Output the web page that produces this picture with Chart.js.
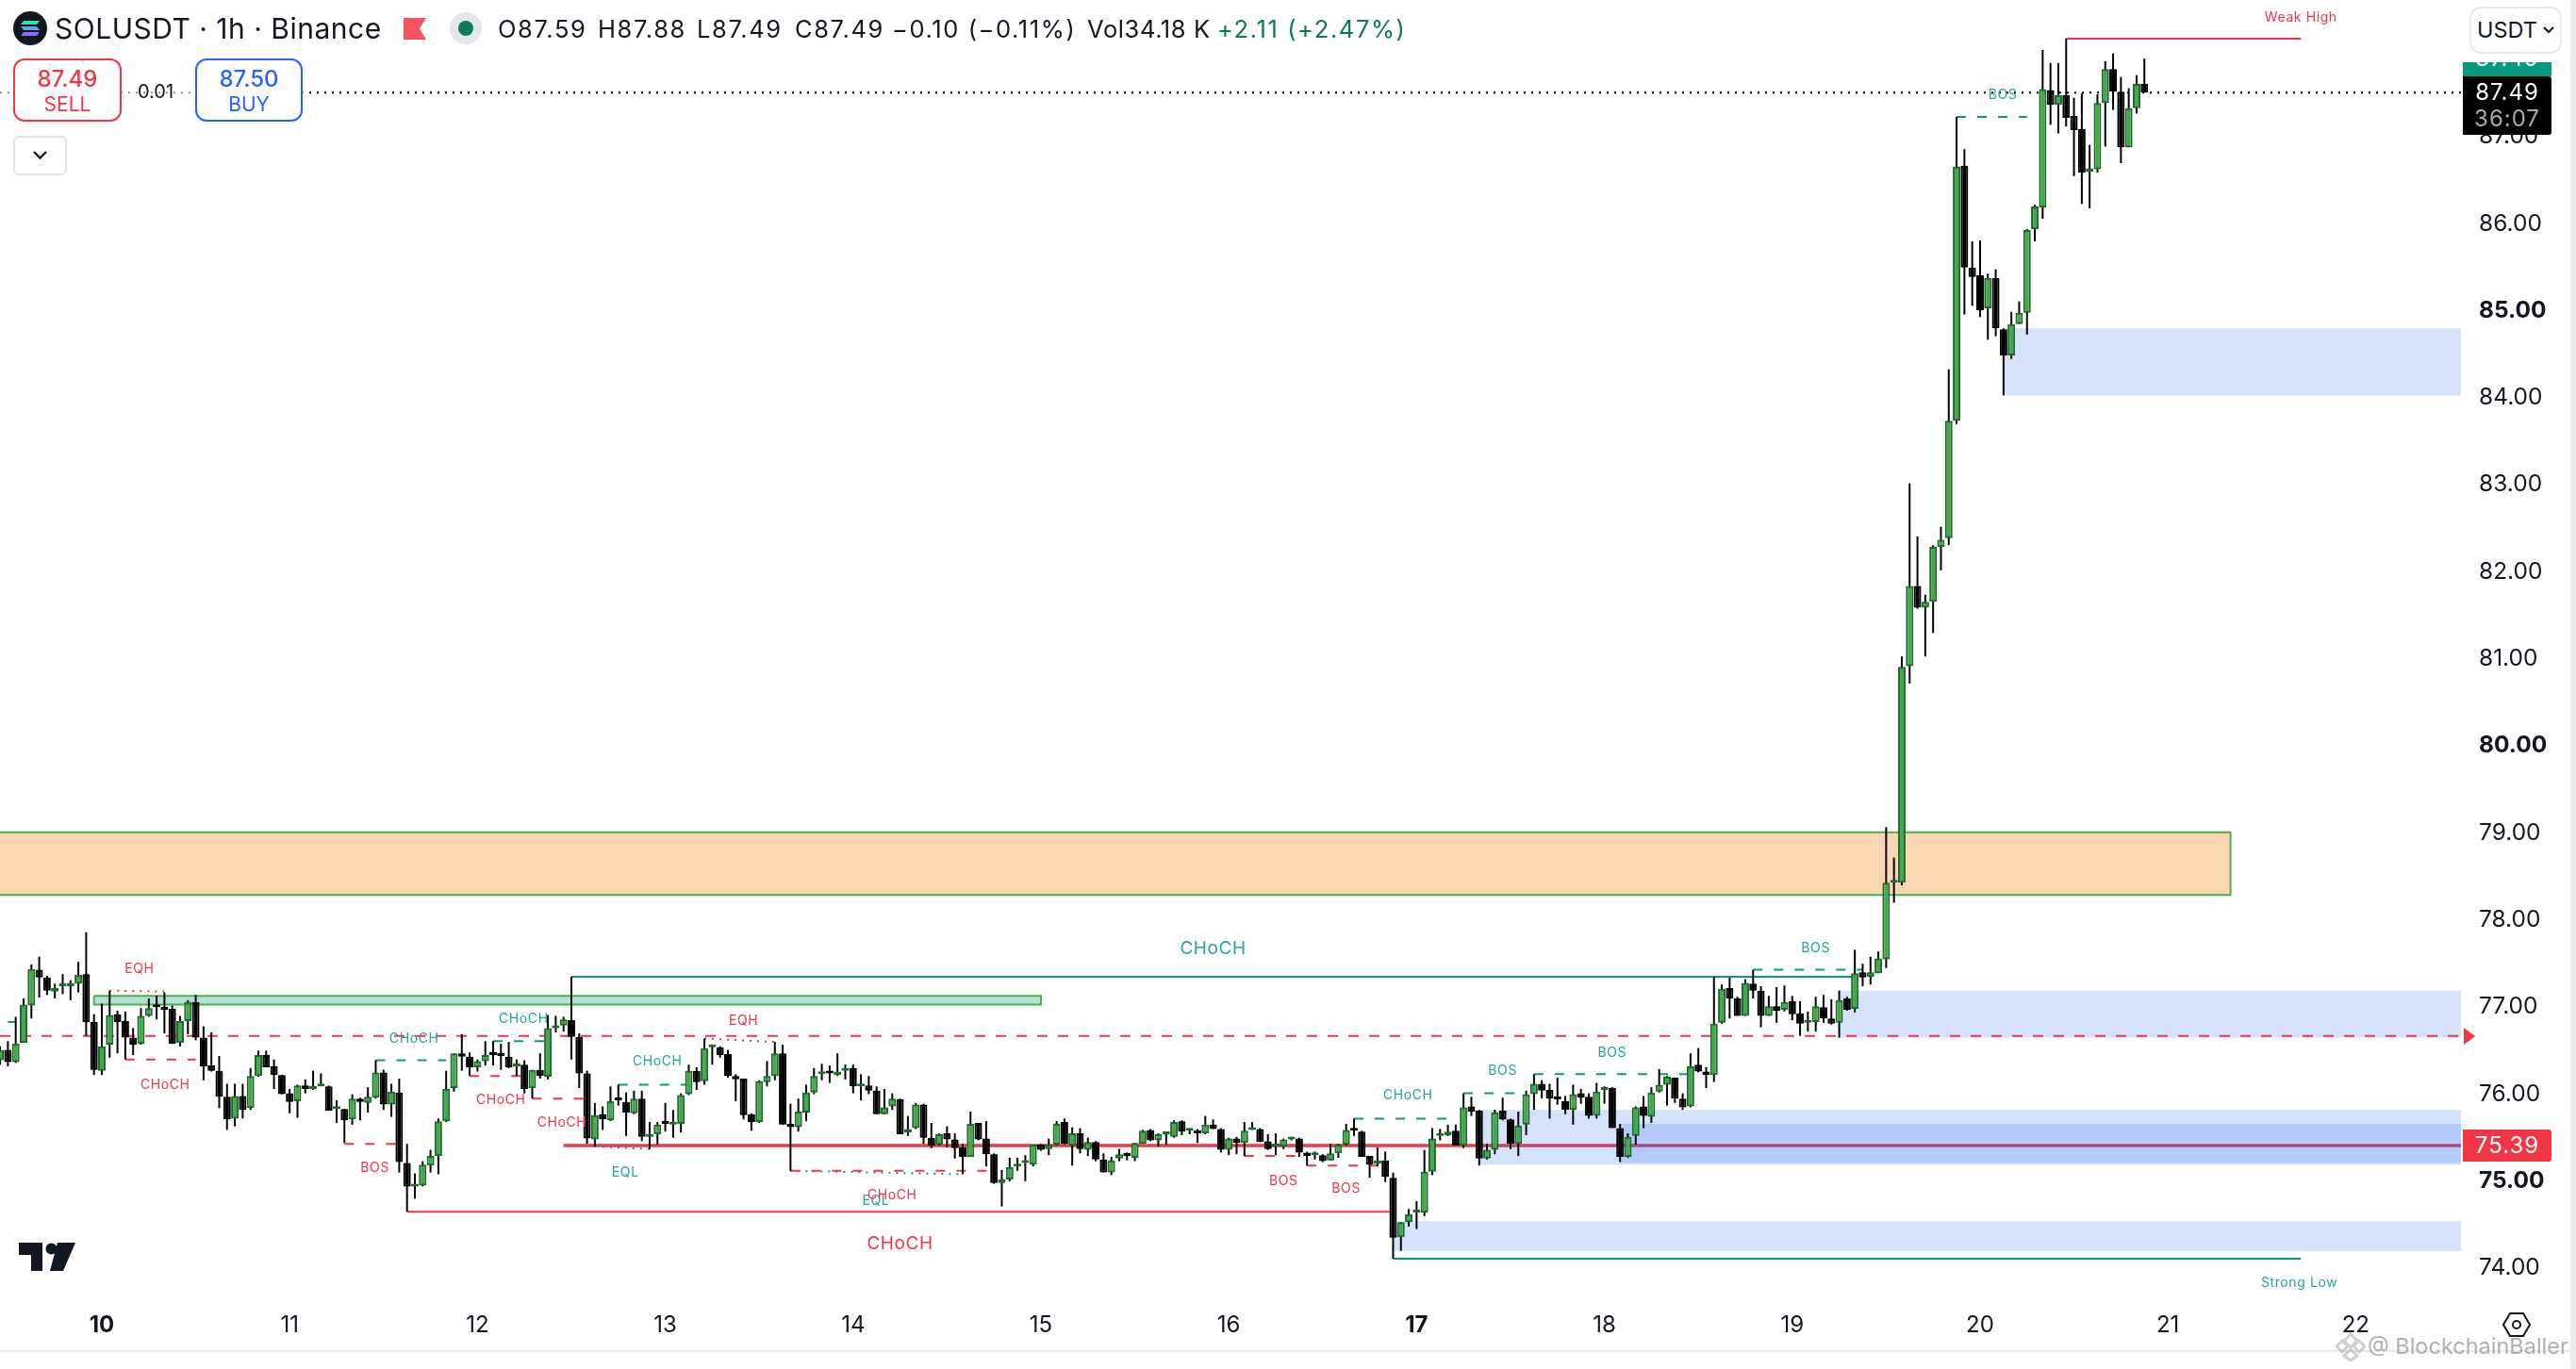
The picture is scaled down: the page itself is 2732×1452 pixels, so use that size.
<!DOCTYPE html>
<html><head><meta charset="utf-8">
<script src="https://cdn.jsdelivr.net/npm/chart.js@4/dist/chart.umd.min.js"></script>
<style>
html,body{margin:0;padding:0;background:#fff;width:2732px;height:1452px;overflow:hidden;font-family:Inter,sans-serif;color:#131722}
#wrap{position:relative;width:2732px;height:1452px}
canvas{position:absolute;left:0;top:0}
.a{position:absolute;white-space:nowrap;line-height:1}
.box{position:absolute;box-sizing:border-box;background:#fff}
.c{position:absolute;left:0;right:0;text-align:center;line-height:1}
.q{font-size:25.5px;letter-spacing:1.6px;top:18px}
</style></head><body><div id="wrap"><canvas id="c" width="2732" height="1452"></canvas>
<div class="a" style="left:0;top:96px;width:322px;height:5px;background:rgba(255,255,255,.55)"></div>
<svg class="a" style="left:14px;top:12px" width="36" height="36" viewBox="0 0 36 36"><circle cx="18" cy="18" r="18" fill="#131722"/><polygon points="11,10 28,10 25,14 8,14" fill="#2fe0b0"/><polygon points="8,16 25,16 28,20 11,20" fill="#5aa8e8"/><polygon points="11,22 28,22 25,26 8,26" fill="#8f6cf0"/></svg>
<div class="a" style="left:58px;top:15px;font-size:30px;letter-spacing:.5px">SOLUSDT · 1h · Binance</div>
<svg class="a" style="left:428px;top:19px" width="24" height="23" viewBox="0 0 24 23"><polygon points="0,0 24,0 17,11.5 24,23 0,23" fill="#f7525f"/></svg>
<svg class="a" style="left:476px;top:12px" width="36" height="36" viewBox="0 0 36 36"><circle cx="18" cy="18" r="17" fill="#e3e7ec"/><circle cx="18" cy="18" r="8" fill="#0b7a5b"/></svg>
<div class="a q" style="left:528px">O87.59</div>
<div class="a q" style="left:634px">H87.88</div>
<div class="a q" style="left:739px">L87.49</div>
<div class="a q" style="left:843px">C87.49</div>
<div class="a q" style="left:946px">−0.10 (−0.11%)</div>
<div class="a q" style="left:1153px;letter-spacing:.6px">Vol34.18 K</div>
<div class="a q" style="left:1291px;color:#0b7a5b">+2.11 (+2.47%)</div>

<div class="box" style="left:14px;top:62px;width:115px;height:67px;border:2px solid #f23645;border-radius:12px;color:#f23645">
 <div class="c" style="top:8px;font-size:24px;font-weight:500">87.49</div><div class="c" style="top:36px;font-size:21px">SELL</div></div>
<div class="a" style="left:146px;top:87px;font-size:20px">0.01</div>
<div class="box" style="left:207px;top:62px;width:114px;height:67px;border:2px solid #2962ff;border-radius:12px;color:#2962ff">
 <div class="c" style="top:8px;font-size:24px;font-weight:500">87.50</div><div class="c" style="top:36px;font-size:21px">BUY</div></div>
<div class="box" style="left:14px;top:144px;width:57px;height:42px;border:2px solid #e0e3eb;border-radius:6px"></div>
<svg class="a" style="left:34px;top:159px" width="17" height="11" viewBox="0 0 17 11"><polyline points="2,2 8.5,8.5 15,2" fill="none" stroke="#131722" stroke-width="2.4"/></svg>

<div class="box" style="left:2619px;top:7px;width:98px;height:50px;border:2px solid #ebebeb;border-radius:12px"></div>
<div class="a" style="left:2627px;top:20px;font-size:23.5px">USDT</div>
<svg class="a" style="left:2697px;top:28px" width="12" height="8" viewBox="0 0 12 8"><polyline points="1,1 6,6 11,1" fill="none" stroke="#131722" stroke-width="2.2"/></svg>

<div class="a" style="left:2612px;top:66px;width:94px;height:15px;background:#089981;overflow:hidden;color:#fff"><div class="c" style="top:-16px;font-size:24px;letter-spacing:1px">87.49</div></div>
<div class="a" style="left:2612px;top:81px;width:94px;height:62px;background:#000;border-radius:0 3px 3px 0;color:#fff">
 <div class="c" style="top:5px;font-size:24px;letter-spacing:1px">87.49</div><div class="c" style="top:33px;font-size:24px;letter-spacing:1px;color:#aaa">36:07</div></div>
<div class="a" style="left:2612px;top:1198px;width:94px;height:34px;background:#f23645;border-radius:0 3px 3px 0;color:#fff"><div class="c" style="top:5px;font-size:24px;letter-spacing:1px">75.39</div></div>
<svg class="a" style="left:2612px;top:1089px" width="14" height="20" viewBox="0 0 14 20"><polygon points="1,1 13,10 1,19" fill="#f23645"/></svg>

<svg class="a" style="left:20px;top:1318px" width="60" height="30" viewBox="0 0 60 30"><path d="M0 0H25V30H13V13H0Z" fill="#131722"/><circle cx="34.5" cy="6.5" r="6" fill="#131722"/><polygon points="41,0 60,0 47,30 33,30" fill="#131722"/></svg>
<svg class="a" style="left:2653px;top:1391px" width="32" height="28" viewBox="0 0 32 28"><polygon points="9,2 23,2 30,14 23,26 9,26 2,14" fill="none" stroke="#131722" stroke-width="2"/><circle cx="16" cy="14" r="4" fill="none" stroke="#131722" stroke-width="2"/></svg>

<div class="a" style="left:0;top:1432px;width:2726px;height:2px;background:#e9e9e9"></div>
<div class="a" style="left:2726px;top:0;width:6px;height:1452px;background:#ebebeb"></div>
<svg class="a" style="left:2477px;top:1412px;opacity:.55" width="32" height="32" viewBox="0 0 32 32"><g fill="none" stroke="#aaa" stroke-width="3"><polygon points="16,3 23,10 16,17 9,10"/><polygon points="6,12 12,18 6,24 0,18" transform="translate(1,-2)"/><polygon points="26,12 32,18 26,24 20,18" transform="translate(-1,-2)"/><polygon points="16,19 23,26 16,31 9,26"/></g></svg>
<div class="a" style="left:2511px;top:1416px;font-size:23.5px;color:rgba(150,150,150,.75)">@ BlockchainBaller</div>
</div>
<script>
const firstHour = -13;
const opens = [76.37,76.49,76.35,76.57,77.00,77.41,77.32,77.16,77.22,77.22,77.25,77.36,76.81,
76.25,76.55,76.90,76.82,76.63,76.56,76.88,76.99,76.98,76.96,
76.57,76.82,77.04,76.63,76.31,76.25,75.95,75.70,75.96,75.82,
76.19,76.43,76.30,76.20,75.99,75.90,76.08,76.04,76.07,76.07,
75.81,75.81,75.69,75.93,75.88,75.94,76.23,75.86,76.00,75.19,
74.92,74.93,75.16,75.27,75.67,76.05,76.45,76.41,76.29,76.36,
76.44,76.43,76.41,76.30,76.32,76.05,76.26,76.18,76.74,76.77,
76.83,76.64,76.22,75.46,75.75,75.68,75.92,75.89,75.76,75.93,
75.49,75.52,75.65,75.63,75.64,75.98,76.25,76.13,76.52,76.52,
76.44,76.19,76.16,75.75,75.66,76.12,76.19,76.45,75.64,75.60,
75.77,76.00,76.21,76.23,76.20,76.25,76.28,76.07,76.08,76.02,
75.75,75.84,75.92,75.54,75.59,75.86,75.48,75.40,75.53,75.46,
75.37,75.26,75.65,75.47,75.29,74.96,75.00,75.15,75.19,75.17,
75.40,75.35,75.40,75.66,75.39,75.53,75.34,75.43,75.23,75.08,
75.24,75.28,75.25,75.41,75.57,75.45,75.52,75.49,75.67,75.56,
75.56,75.53,75.63,75.58,75.34,75.47,75.42,75.57,75.58,75.44,
75.38,75.38,75.46,75.47,75.31,75.28,75.28,75.22,75.30,75.40,
75.57,75.55,75.27,75.18,75.22,75.02,74.34,74.51,74.62,74.62,
75.09,75.50,75.51,75.56,75.39,75.84,75.79,75.24,75.34,75.79,
75.69,75.41,75.63,75.98,76.10,76.03,75.93,75.90,75.80,75.99,
75.95,75.73,76.03,76.05,75.59,75.26,75.50,75.84,75.72,76.01,
76.09,76.17,75.93,75.84,76.32,76.24,76.20,76.80,77.20,77.08,
76.88,77.25,77.17,76.88,76.99,76.95,77.05,76.91,76.80,76.81,
76.98,76.85,76.80,77.08,76.96,77.38,77.33,77.37,77.53,78.41,
78.41,80.90,81.82,81.57,81.64,82.27,82.37,83.72,86.65,85.48,
85.39,85.01,85.36,84.77,84.47,84.83,84.96,85.92,86.17,87.52,
87.35,87.46,87.22,87.07,86.58,86.61,87.37,87.76,87.50,86.86,
87.31,87.59];
const highs = [76.53,76.59,76.87,77.08,77.47,77.56,77.34,77.25,77.36,77.29,77.50,77.84,76.90,
77.02,77.17,76.94,76.93,76.74,76.97,77.08,77.11,77.15,77.00,
76.88,77.06,77.12,76.76,76.69,76.42,76.10,76.10,76.10,76.28,
76.48,76.48,76.38,76.20,76.04,76.09,76.15,76.25,76.22,76.08,
75.91,75.81,75.98,75.94,76.06,76.37,76.26,76.10,76.16,75.41,
75.07,75.21,75.34,75.70,76.25,76.45,76.67,76.46,76.38,76.59,
76.59,76.56,76.58,76.38,76.37,76.26,76.45,76.89,76.88,76.87,
77.33,76.68,76.25,75.88,75.84,76.07,76.09,76.00,76.02,76.02,
75.66,75.66,75.88,75.80,75.99,76.32,76.29,76.62,76.55,76.53,
76.49,76.21,76.16,75.76,76.14,76.36,76.58,76.55,75.87,75.93,
76.09,76.28,76.33,76.31,76.45,76.32,76.32,76.21,76.19,76.07,
76.04,75.99,75.93,75.73,75.88,75.87,75.65,75.53,75.61,75.53,
75.41,75.78,75.65,75.67,75.30,75.11,75.25,75.25,75.28,75.40,
75.41,75.47,75.67,75.70,75.60,75.59,75.48,75.44,75.30,75.26,
75.35,75.31,75.42,75.57,75.58,75.53,75.53,75.68,75.68,75.57,
75.58,75.73,75.69,75.59,75.48,75.49,75.66,75.66,75.59,75.52,
75.53,75.47,75.49,75.48,75.32,75.32,75.29,75.41,75.41,75.64,
75.70,75.56,75.27,75.37,75.32,75.08,74.51,74.66,74.75,75.34,
75.59,75.58,75.63,75.63,75.99,75.95,75.80,75.41,75.80,75.94,
75.70,75.78,76.02,76.21,76.14,76.10,76.17,75.96,76.09,76.04,
75.99,76.11,76.07,76.06,75.64,75.53,75.84,75.96,76.06,76.27,
76.19,76.17,75.99,76.45,76.51,76.29,77.33,77.24,77.32,77.10,
77.30,77.41,77.22,77.11,77.21,77.23,77.11,77.05,76.93,77.10,
77.12,77.07,77.17,77.10,77.64,77.48,77.56,77.62,79.05,78.70,
81.01,83.00,82.39,81.72,82.29,82.50,84.31,87.21,86.84,85.78,
85.79,85.41,85.46,84.78,84.97,85.09,85.92,86.20,87.98,87.83,
87.83,88.11,87.43,87.48,86.89,87.47,87.85,87.94,87.67,87.54,
87.69,87.88];
const lows = [76.32,76.30,76.34,76.57,76.85,77.09,77.12,77.08,77.13,77.06,77.15,76.65,76.20,
76.20,76.40,76.45,76.38,76.43,76.55,76.87,76.84,76.68,76.56,
76.53,76.67,76.60,76.14,76.24,75.82,75.57,75.61,75.70,75.80,
76.18,76.29,76.04,75.98,75.76,75.71,75.99,76.03,76.07,75.79,
75.65,75.42,75.63,75.68,75.77,75.93,75.80,75.72,75.08,74.63,
74.78,74.92,75.08,75.06,75.66,76.01,76.25,76.19,76.24,76.31,
76.31,76.26,76.28,76.19,75.99,75.93,76.16,76.15,76.69,76.70,
76.38,76.05,75.41,75.38,75.57,75.67,75.85,75.50,75.75,75.44,
75.35,75.40,75.55,75.48,75.54,75.97,76.03,76.09,76.32,76.40,
76.17,75.90,75.69,75.56,75.65,76.07,76.14,75.63,75.10,75.55,
75.67,75.98,76.14,76.11,76.19,76.15,75.99,75.91,75.98,75.75,
75.75,75.80,75.52,75.50,75.58,75.41,75.36,75.39,75.37,75.24,
75.06,75.26,75.45,75.15,74.95,74.69,74.98,75.10,74.98,75.15,
75.33,75.28,75.39,75.40,75.16,75.30,75.27,75.21,75.08,75.05,
75.21,75.22,75.21,75.41,75.44,75.38,75.40,75.48,75.51,75.52,
75.42,75.52,75.58,75.31,75.28,75.29,75.27,75.57,75.43,75.34,
75.28,75.35,75.45,75.26,75.16,75.23,75.20,75.22,75.25,75.39,
75.50,75.26,75.02,75.15,74.97,74.09,74.18,74.46,74.43,74.58,
75.05,75.45,75.50,75.39,75.36,75.73,75.16,75.23,75.29,75.68,
75.35,75.27,75.51,75.80,75.93,75.70,75.86,75.75,75.63,75.87,
75.70,75.70,75.87,75.59,75.20,75.25,75.40,75.59,75.65,76.00,
75.85,75.88,75.80,75.83,76.23,76.05,76.12,76.79,76.85,76.88,
76.88,77.08,76.75,76.88,76.80,76.93,76.83,76.65,76.70,76.70,
76.80,76.78,76.63,76.94,76.92,77.22,77.24,77.37,77.43,78.18,
78.38,80.70,81.56,81.01,81.28,82.00,82.29,83.68,84.94,85.04,
84.91,84.65,84.69,84.01,84.43,84.83,84.71,85.78,86.04,87.12,
87.02,87.10,86.53,86.21,86.16,86.57,86.87,87.29,86.68,86.86,
87.25,87.49];
const closes = [76.49,76.35,76.56,77.01,77.42,77.32,77.17,77.20,77.23,77.26,77.35,76.81,76.26,
76.53,76.89,76.81,76.63,76.55,76.88,76.97,76.98,76.95,76.56,
76.82,77.04,76.63,76.30,76.25,75.95,75.69,75.96,75.80,76.19,
76.43,76.29,76.20,75.98,75.89,76.08,76.04,76.07,76.08,75.79,
75.82,75.68,75.93,75.89,75.95,76.23,75.86,76.01,75.20,74.92,
74.93,75.17,75.27,75.67,76.04,76.45,76.41,76.29,76.36,76.43,
76.43,76.42,76.29,76.32,76.04,76.26,76.19,76.74,76.77,76.84,
76.64,76.22,75.47,75.74,75.69,75.90,75.91,75.77,75.93,75.49,
75.52,75.63,75.64,75.64,75.97,76.25,76.12,76.51,76.53,76.43,
76.19,76.15,75.74,75.66,76.13,76.19,76.45,75.63,75.60,75.78,
76.00,76.19,76.22,76.22,76.24,76.27,76.07,76.08,76.02,75.75,
75.83,75.93,75.52,75.58,75.86,75.48,75.39,75.52,75.46,75.36,
75.26,75.64,75.46,75.29,74.96,75.00,75.14,75.18,75.20,75.40,
75.34,75.40,75.64,75.41,75.53,75.35,75.43,75.23,75.08,75.22,
75.29,75.27,75.42,75.56,75.45,75.52,75.53,75.66,75.55,75.57,
75.53,75.63,75.58,75.34,75.47,75.42,75.56,75.58,75.43,75.35,
75.39,75.46,75.47,75.31,75.27,75.29,75.21,75.30,75.40,75.57,
75.56,75.26,75.17,75.22,75.03,74.33,74.51,74.60,74.63,75.09,
75.47,75.51,75.55,75.39,75.83,75.78,75.24,75.34,75.77,75.69,
75.41,75.62,75.98,76.10,76.02,75.93,75.92,75.80,75.98,75.94,
75.73,76.01,76.04,75.59,75.26,75.49,75.83,75.73,76.00,76.09,
76.18,75.93,75.83,76.30,76.24,76.20,76.79,77.19,77.08,76.88,
77.26,77.17,76.88,76.99,76.94,77.04,76.90,76.79,76.81,76.99,
76.85,76.79,77.06,76.95,77.37,77.32,77.38,77.54,78.41,78.42,
80.89,81.82,81.57,81.64,82.27,82.35,83.72,86.64,85.48,85.37,
84.99,85.36,84.78,84.47,84.83,84.96,85.91,86.18,87.53,87.35,
87.46,87.20,87.06,86.57,86.62,87.37,87.76,87.50,86.86,87.31,
87.59,87.49];

const dayHours = [0,24,48,72,96,120,144,168,192,216,240,264,288];
const dayLabels = ['10','11','12','13','14','15','16','17','18','19','20','21','22'];
const boldDays = ['10','17'];
const priceTicks = [74,75,76,77,78,79,80,81,82,83,84,85,86,87];
const boldPrices = [75,80,85];

const xMin = -13.01, xMax = 301.45, yMin = 73.624, yMax = 88.554;

// zones: start hour, end hour, top price, bottom price
const demandStart = [243,222,176,194,165];
const demandTop = [84.78,77.17,75.80,75.64,74.52];
const demandBottom = [84.01,76.63,75.17,75.19,74.18];
const supplyZone = [-14,272,78.99,78.27];
const obZone = [-1,120,77.11,77.01];

// horizontal levels: [start hour, end hour, price]
const tealSolid = [[60,224,77.33],[165,281,74.09]];
const redSolid = [[39,165,74.63],[251,281,88.11]];
const lastPrice = 87.49, markLine = 76.65, redLevel = 75.39, redLevelStart = 59;
const tealDash = [[-12,-11,76.81],[35,44,76.37],[50,57,76.59],[66,75,76.09],[160,173,75.70],[174,181,75.99],[183,203,76.21],[211,225,77.41],[237,246,87.21]];
const redDash = [[3,12,76.38],[31,38,75.41],[47,54,76.19],[55,62,75.93],[88,114,75.10],[146,153,75.27],[154,163,75.16]];
// dotted pairs: [start hour, start price, end hour, end price]
const redDots = [[1,77.17,8,77.16],[77,76.62,86,76.58]];
const tealDots = [[63,75.38,70,75.35],[88,75.10,110,75.06]];

// text anchors: [text, hour, price]
const tealText = [['CHoCH',39.9,76.63],['CHoCH',53.9,76.86],['CHoCH',71,76.37],['EQL',66.9,75.09],['EQL',98.9,74.77],['CHoCH',166.9,75.98],['BOS',179,76.26],['BOS',193,76.47],['BOS',219,77.67],['BOS',242.9,87.48],['Strong Low',280.8,73.83]];
const redText = [['EQH',4.8,77.43],['CHoCH',8.1,76.10],['BOS',34.9,75.15],['CHoCH',51,75.93],['CHoCH',58.8,75.67],['EQH',82,76.84],['CHoCH',101,74.83],['BOS',151,75.00],['BOS',159,74.91],['Weak High',281,88.37]];
const tealBig = [['CHoCH',142,77.67]];
const redBig = [['CHoCH',102,74.28]];

const TEAL='#089981', RED='#f23645', FONT='Inter, sans-serif';
const hours = opens.map((_,k)=>k+firstHour);
const isUp = k => closes[k] >= opens[k];

function seg(x0,y0,x1,y1,color,width,dash,order){
  return {type:'line',data:[{x:x0,y:y0},{x:x1,y:y1}],borderColor:color,borderWidth:width,borderDash:dash||[],pointRadius:0,fill:false,tension:0,order:order,borderCapStyle:'butt'};
}
function zoneFill(x0,x1,top,bottom,color,order){
  return {type:'line',data:[{x:x0,y:top},{x:x1,y:top}],borderWidth:0,borderColor:'transparent',pointRadius:0,tension:0,backgroundColor:color,fill:{value:bottom},order:order};
}
function zoneEdge(x0,x1,top,bottom,color,order){
  return {type:'line',data:[{x:x0,y:top},{x:x1,y:top},{x:x1,y:bottom},{x:x0,y:bottom},{x:x0,y:top}],borderColor:color,borderWidth:2,pointRadius:0,tension:0,fill:false,order:order};
}

const datasets = [];
datasets.push({type:'bar',label:'body',data:hours.map((h,k)=>({x:h,y:[opens[k],closes[k]]})),
  backgroundColor:hours.map((h,k)=>isUp(k)?'#45a84d':'#000000'),
  borderColor:hours.map((h,k)=>isUp(k)?'#1f6b2e':'#000000'),
  borderWidth:2,borderSkipped:false,barThickness:8,minBarLength:3,grouped:false,inflateAmount:0,order:0});
datasets.push({type:'bar',label:'wick',data:hours.map((h,k)=>({x:h,y:[lows[k],highs[k]]})),
  backgroundColor:'#000000',borderWidth:0,barThickness:2,grouped:false,inflateAmount:0,order:1});
tealDash.forEach(s=>datasets.push(seg(s[0],s[2],s[1],s[2],TEAL,2,[10,12],2)));
redDash.forEach(s=>datasets.push(seg(s[0],s[2],s[1],s[2],RED,2,[10,12],2)));
tealSolid.forEach(s=>datasets.push(seg(s[0],s[2],s[1],s[2],TEAL,2,[],2)));
redSolid.forEach(s=>datasets.push(seg(s[0],s[2],s[1],s[2],RED,2,[],2)));
redDots.forEach(s=>datasets.push(seg(s[0],s[1],s[2],s[3],RED,2,[2,6],2)));
tealDots.forEach(s=>datasets.push(seg(s[0],s[1],s[2],s[3],TEAL,2,[2,6],2)));
datasets.push(seg(xMin,markLine,xMax,markLine,RED,2,[11,11],2));
datasets.push(seg(xMin,lastPrice,xMax,lastPrice,'#000000',2,[2,6],2));
demandStart.forEach((s,k)=>datasets.push(zoneFill(s,xMax,demandTop[k],demandBottom[k],'rgba(44,110,240,0.2)',3)));
datasets.push(seg(redLevelStart,redLevel,xMax,redLevel,RED,3.5,[],4));
datasets.push(zoneEdge(obZone[0],obZone[1],obZone[2],obZone[3],'#4caf50',5));
datasets.push(zoneFill(obZone[0],obZone[1],obZone[2],obZone[3],'#b2dfd8',6));
datasets.push(zoneEdge(supplyZone[0],supplyZone[1],supplyZone[2],supplyZone[3],'#4caf50',5));
datasets.push(zoneFill(supplyZone[0],supplyZone[1],supplyZone[2],supplyZone[3],'#fad7b0',6));

const textPlugin = {id:'structureText',afterDatasetsDraw(chart){
  const {ctx,scales:{x,y}} = chart;
  ctx.save();ctx.textAlign='center';ctx.textBaseline='middle';
  const put=(list,color,size,spacing)=>{ctx.fillStyle=color;ctx.font='400 '+size+'px '+FONT;ctx.letterSpacing=spacing;
    list.forEach(t=>ctx.fillText(t[0],x.getPixelForValue(t[1]),y.getPixelForValue(t[2])+1.5));};
  put(tealText,'#26a69a',14,'0.6px');
  put(redText,'#f23645',14,'0.6px');
  put(tealBig,'#26a69a',19,'0.6px');
  put(redBig,'#f23645',19,'0.6px');
  ctx.restore();
}};

new Chart(document.getElementById('c'),{
  type:'bar',
  data:{datasets},
  plugins:[textPlugin],
  options:{
    responsive:false,animation:false,devicePixelRatio:1,
    layout:{padding:0,autoPadding:false},
    plugins:{legend:{display:false},tooltip:{enabled:false},filler:{drawTime:'beforeDatasetDraw',propagate:false}},
    scales:{
      x:{type:'linear',min:xMin,max:xMax,offset:false,
        grid:{display:false,offset:false},border:{display:false},
        afterFit(s){s.height=74;s.paddingLeft=0;s.paddingRight=0;},
        afterBuildTicks(s){s.ticks=dayHours.map(v=>({value:v}));},
        ticks:{autoSkip:false,maxRotation:0,padding:5,color:'#131722',
          callback:(v,i)=>dayLabels[i],
          font:c=>({family:FONT,size:24,weight:(c.index!==undefined&&boldDays.includes(dayLabels[c.index]))?'700':'400'})}},
      y:{type:'linear',position:'right',min:yMin,max:yMax,
        grid:{display:false},border:{display:false},
        afterFit(s){s.width=122;s.paddingTop=0;s.paddingBottom=0;},
        afterBuildTicks(s){s.ticks=priceTicks.map(v=>({value:v}));},
        ticks:{autoSkip:false,padding:11,labelOffset:1.5,color:'#131722',
          callback:v=>Number(v).toFixed(2),
          font:c=>({family:FONT,size:24.5,weight:(c.tick&&boldPrices.includes(c.tick.value))?'700':'400'})}}
    }
  }
});
</script></body></html>
